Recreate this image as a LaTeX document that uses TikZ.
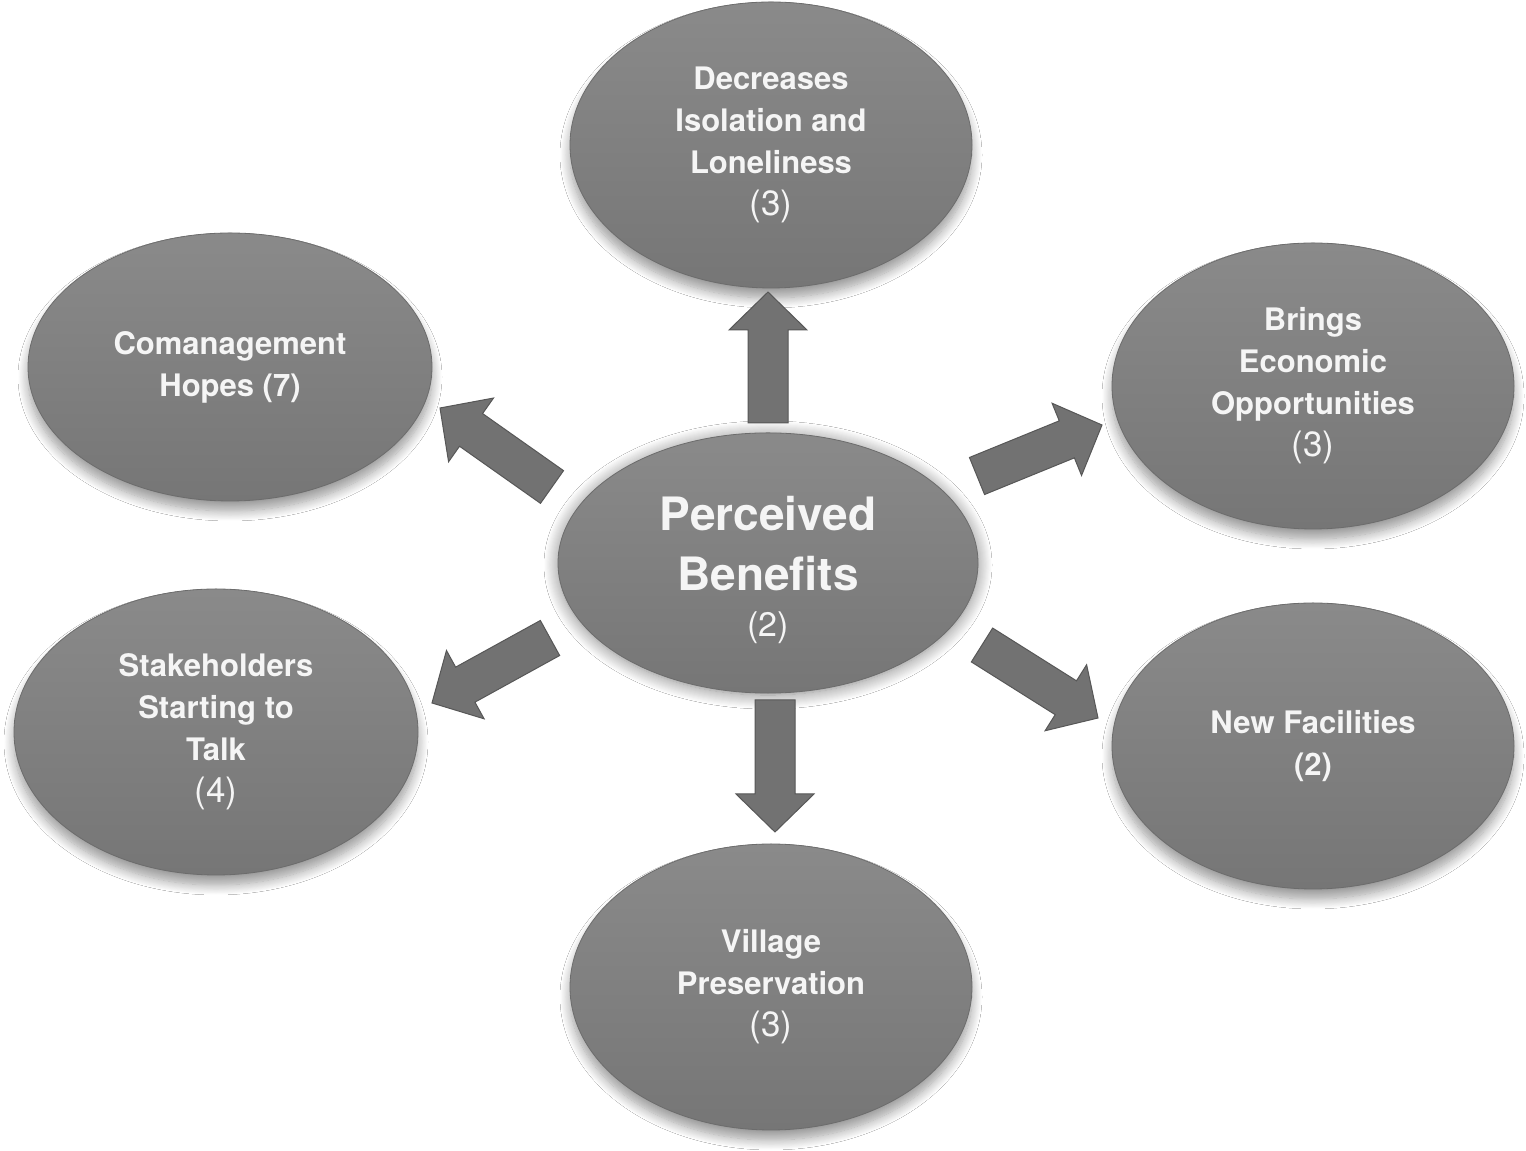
\documentclass[tikz,border=0pt]{standalone}
\usepackage{fontspec}
\setmainfont{TeX Gyre Heros}
\usetikzlibrary{calc,shapes.geometric,shadows.blur}
\definecolor{etop}{HTML}{8A8A8A}
\definecolor{ebot}{HTML}{767676}
\definecolor{eedge}{HTML}{6C6C6C}
\definecolor{etext}{HTML}{F5F5F5}
\definecolor{acol}{HTML}{727272}
\definecolor{aedge}{HTML}{575757}
\newcommand\cntlabel[1]{{\fontsize{35}{42}\selectfont\mdseries #1}}
\tikzset{
  ell/.style={ellipse, inner sep=0pt, draw=eedge, line width=0.8pt,
    top color=etop, bottom color=ebot, text=etext, align=center,
    font=\fontsize{31}{42}\selectfont\bfseries,
    blur shadow={shadow xshift=0pt, shadow yshift=-10pt, shadow blur radius=10pt,
      shadow blur steps=12, shadow opacity=40}},
  cell/.style={ellipse, inner sep=0pt, draw=eedge, line width=0.8pt,
    top color=etop, bottom color=ebot, text=etext,
    font=\fontsize{46}{60}\selectfont\bfseries,
    blur shadow={shadow xshift=0pt, shadow yshift=-2pt, shadow blur radius=14pt,
      shadow blur steps=14, shadow opacity=50}},
  barrow/.style={fill=acol, draw=aedge, line width=1pt, line join=miter}
}
\newcommand\blockarrow[2]{%
  \filldraw[barrow] let \p1=($(#2)-(#1)$), \n1={atan2(\y1,\x1)}, \n2={veclen(\x1,\y1)-38} in
    ($(#1)+(\n1+90:20)$) -- ($(#1)+(\n1:\n2)+(\n1+90:20)$) -- ($(#1)+(\n1:\n2)+(\n1+90:39)$)
    -- (#2) -- ($(#1)+(\n1:\n2)+(\n1-90:39)$) -- ($(#1)+(\n1:\n2)+(\n1-90:20)$)
    -- ($(#1)+(\n1-90:20)$) -- cycle;}
\begin{document}
\begin{tikzpicture}[x=1pt,y=1pt]
\useasboundingbox[fill=white] (0,0) rectangle (1526,1151);
% outer ellipses
\node[ell, minimum width=402, minimum height=286] (top) at (771,1006)
  {Decreases\\Isolation and\\Loneliness\\\cntlabel{(3)}};
\node[ell, minimum width=404, minimum height=268] (tl) at (230,784)
  {Comanagement\\Hopes (7)};
\node[ell, minimum width=402, minimum height=286] (tr) at (1313,765)
  {Brings\\Economic\\Opportunities\\\cntlabel{(3)}};
\node[ell, minimum width=404, minimum height=286] (bl) at (216,419)
  {Stakeholders\\Starting to\\Talk\\\cntlabel{(4)}};
\node[ell, minimum width=402, minimum height=286] (br) at (1313,405)
  {New Facilities\\(2)};
\node[ell, minimum width=402, minimum height=286] (bot) at (771,164)
  {Village\\Preservation\\\cntlabel{(3)}};
% centre
\node[cell, minimum width=420, minimum height=216] (c) at (768,588)
  {\begin{tabular}{@{}c@{}}\rule{0pt}{60pt}Perceived\\Benefits\\[-14pt]{\fontsize{34}{40}\selectfont\mdseries(2)}\end{tabular}};
% arrow ends
\coordinate (upA) at (768,728);  \coordinate (upB) at (768,859);
\coordinate (dnA) at (775,451);  \coordinate (dnB) at (775,319);
\coordinate (tlA) at (552,664);  \coordinate (tlB) at (440,743);
\coordinate (trA) at (977,675);  \coordinate (trB) at (1102,726);
\coordinate (blA) at (550,513);  \coordinate (blB) at (432,448);
\coordinate (brA) at (982,506);  \coordinate (brB) at (1098,433);
\blockarrow{upA}{upB}
\blockarrow{dnA}{dnB}
\blockarrow{tlA}{tlB}
\blockarrow{trA}{trB}
\blockarrow{blA}{blB}
\blockarrow{brA}{brB}
\end{tikzpicture}
\end{document}
